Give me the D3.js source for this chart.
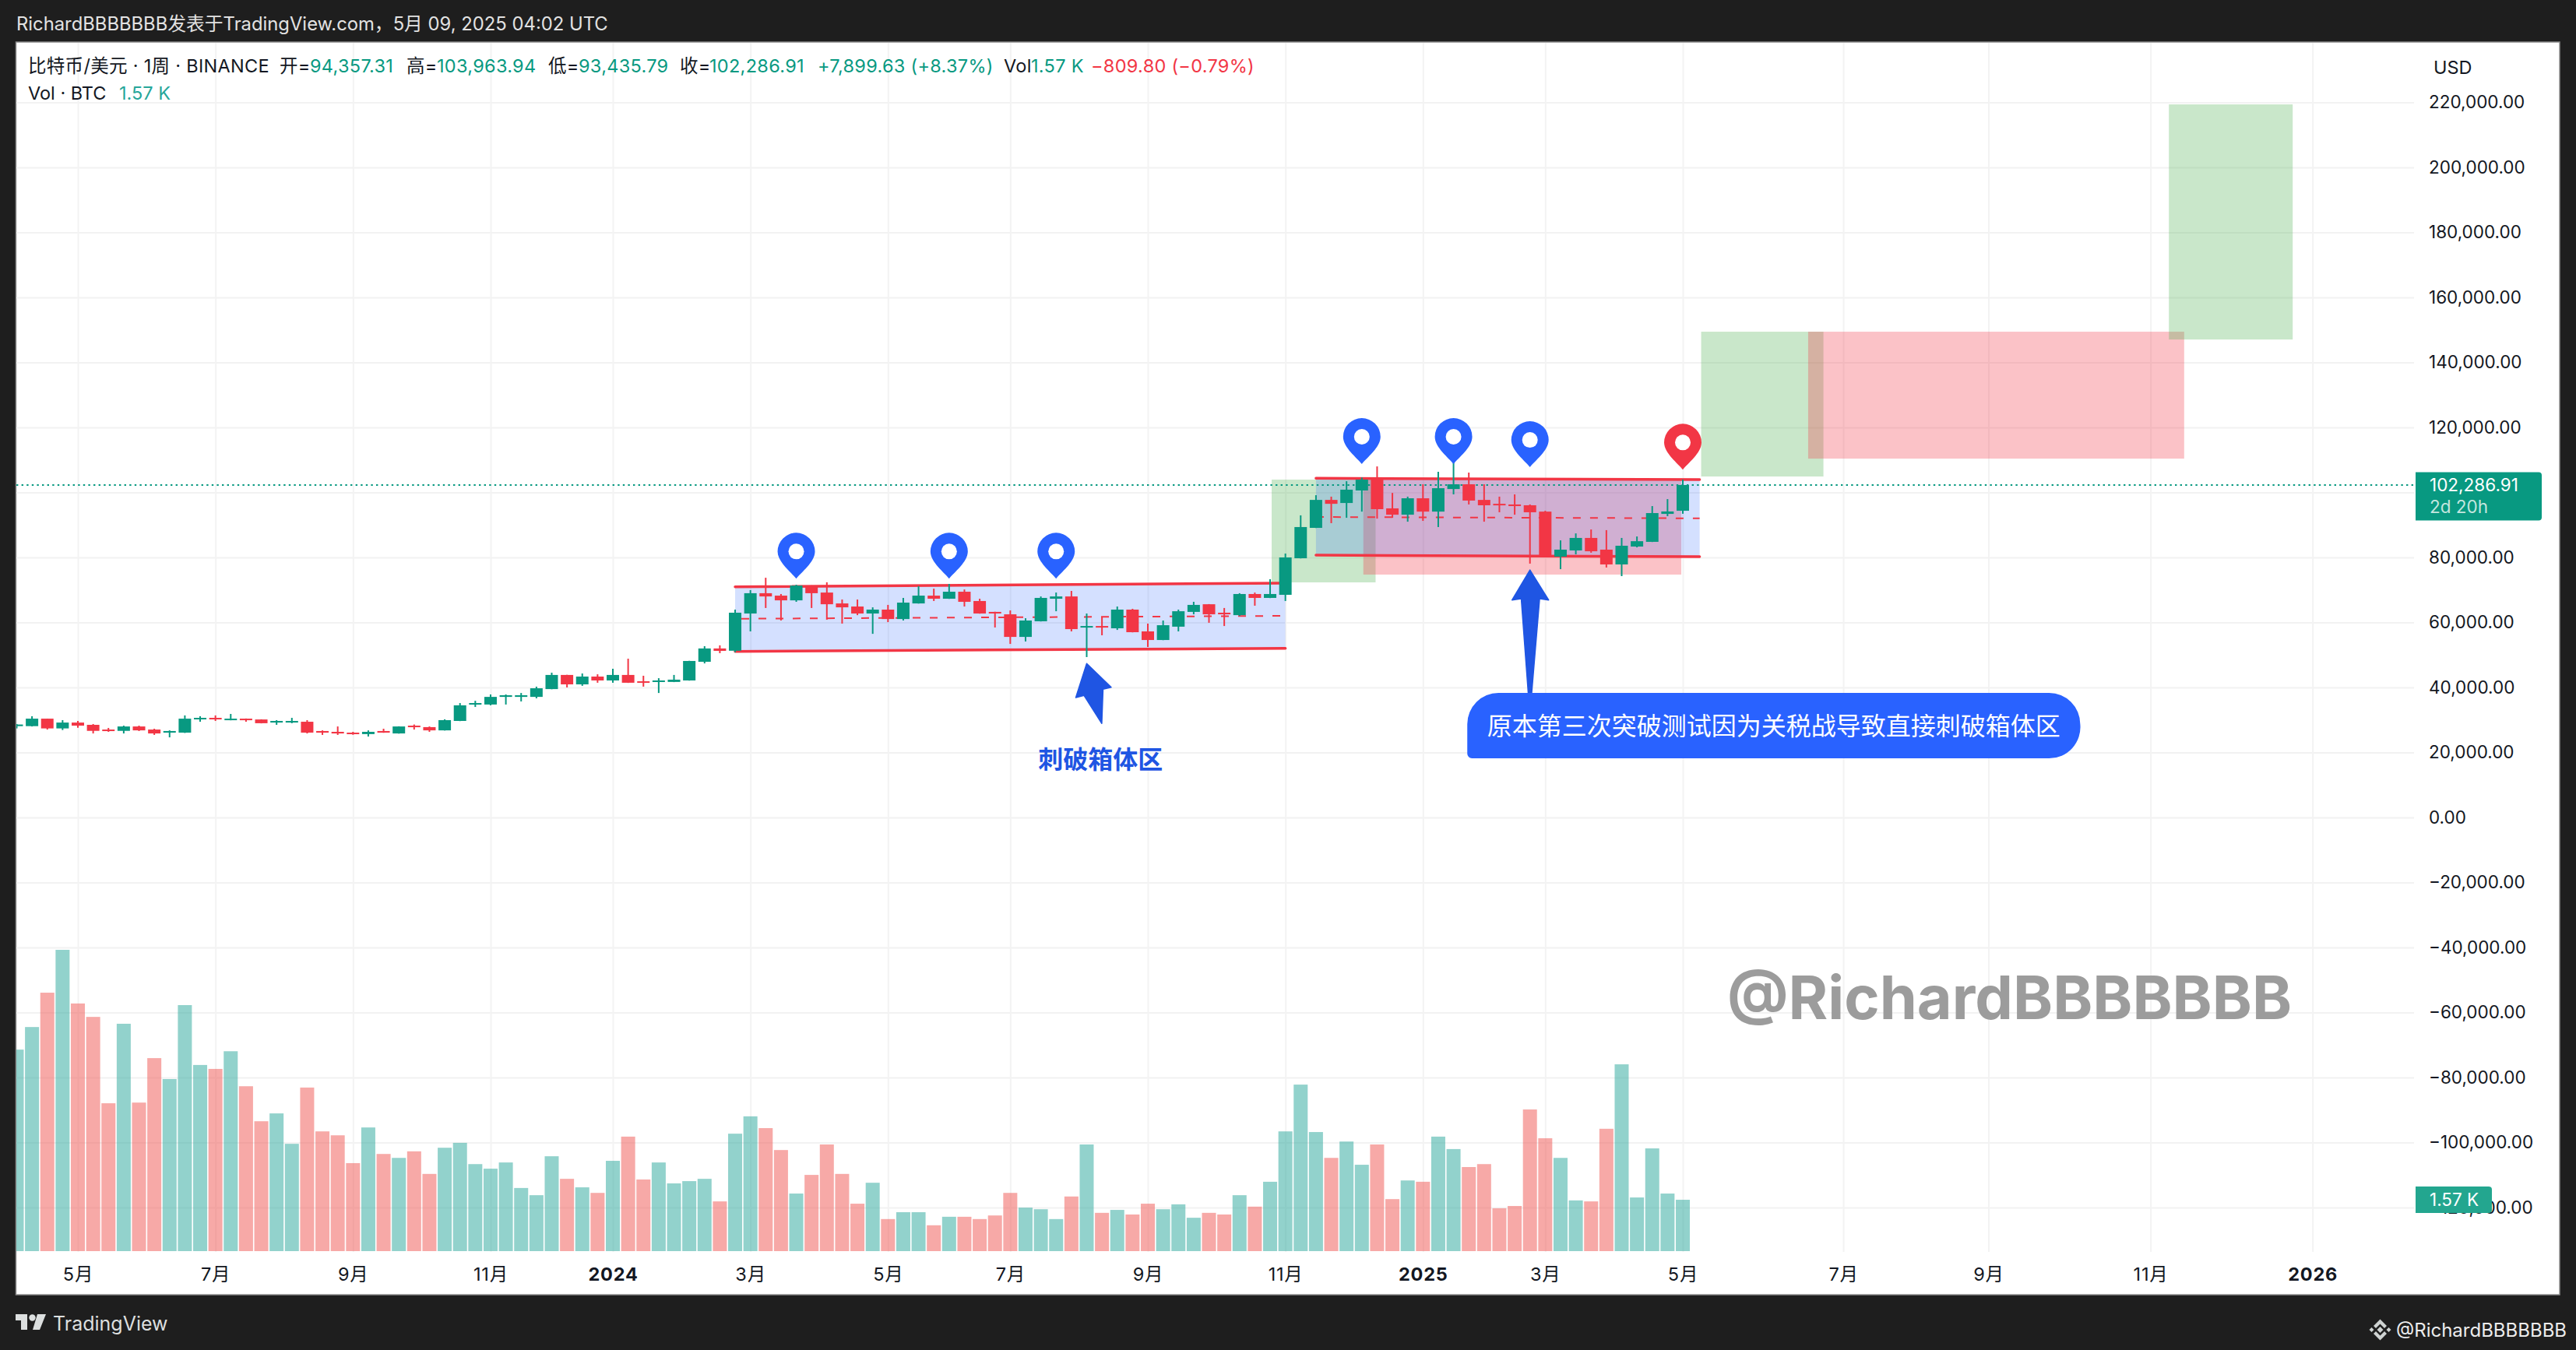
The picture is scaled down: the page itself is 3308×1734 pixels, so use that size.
<!DOCTYPE html>
<html>
<head>
<meta charset="utf-8">
<script src="https://cdn.jsdelivr.net/npm/d3@7"></script>
<style>
body { margin: 0; background: #1e1e1e; }
svg { display: block; }
text { font-family: Inter, "Noto Sans CJK SC", sans-serif; }
</style>
</head>
<body>
<script>
// weekly candles, first bar is 4 weeks before 5月 2023
var firstBar = -4;
var opens = [
	28100,28100,30400,27400,29200,28500,27050,26650,28000,27050,
	26100,26100,30200,30650,29950,30400,30150,29200,29200,29450,
	26600,26350,26100,25650,26600,25850,28250,27800,26800,29700,
	34750,34750,37100,37100,37100,39500,43850,40950,43350,42150,
	43850,41900,41700,41700,42150,47900,52000,51300,62750,69000,
	68250,66800,71350,69200,65850,64900,62750,63950,61050,65850,
	68250,67300,69450,66600,63250,62500,55550,60350,67300,68000,
	58450,58900,58200,63950,57250,54600,58700,63250,65600,63000,
	62250,68750,67550,68500,79750,89100,97700,96750,100600,104200,
	95100,93150,98200,94100,101050,102500,97700,96500,96300,96050,
	94100,80250,82150,86000,82400,77850,83350,84800,93400,94357.31
];
var closes = [
	28600,30400,27400,29200,28250,26650,26650,28000,26800,25850,
	26600,30400,30650,30200,30400,29950,29000,29700,29700,26100,
	26100,25850,25650,26350,26100,28000,27800,26800,29950,34500,
	35200,37100,37600,37600,39750,43850,40950,43350,42150,43850,
	41450,41450,42150,42400,48150,52000,51250,63000,69000,68000,
	66800,71350,69000,65600,64650,62750,63950,61050,66100,68250,
	67300,69450,66350,62750,62750,55550,60600,67550,68000,57950,
	58900,58450,63950,57000,54600,59150,63450,65400,62500,62500,
	68750,67550,68750,80000,89350,97700,96500,100850,103950,94850,
	93150,98200,94100,101300,102500,97500,96050,96050,95800,93900,
	80250,82400,86000,81900,77850,83600,85000,93650,94150,102286.91
];
var highs = [
	28750,31150,30400,29950,29700,28750,27550,28250,28250,27300,
	26800,31400,31150,31400,31850,30450,30200,29950,30650,29950,
	26800,28000,26350,26800,27300,28050,28600,28000,30200,35200,
	35900,37850,37850,38300,40250,44550,43900,44300,44050,45750,
	48850,43600,42850,43850,48200,52700,52950,63950,69950,73750,
	68750,71600,71400,72350,67050,67050,64650,65400,67550,71150,
	70400,71850,70150,67300,63300,63700,61300,68000,69200,69700,
	62750,61800,64900,64200,59650,60600,63950,66350,65650,64450,
	69000,69200,73300,81200,92950,99150,98700,103450,104600,108000,
	99850,98700,102500,106350,109350,106100,102500,98700,99400,96300,
	94350,85250,87400,88600,88400,86000,86450,95800,97950,103963.94
];
var lows = [
	27400,28000,27050,26900,27600,25850,26350,25850,26600,25400,
	24650,26000,29450,29700,29900,29450,28950,28500,29000,25850,
	25400,25400,25450,24900,26050,25800,27050,26350,26750,29650,
	34000,34500,34750,35700,36650,39450,40000,40500,41450,41450,
	41400,40250,38300,41650,42100,47400,50550,50850,57250,64450,
	60600,66350,64450,60850,59650,62250,56500,60100,60600,65800,
	66600,67250,64900,62700,58450,53400,54150,60300,63450,57250,
	49350,56050,57700,56950,52450,54550,57250,62500,59900,58900,
	62000,65150,67500,66600,79700,89050,90550,92200,94100,91950,
	92200,91000,91250,89350,99400,96300,91000,93900,93150,78100,
	80000,76400,80950,81450,76900,74250,83100,84750,92700,93435.79
];
// volume in K BTC
var volumes = [
	6.16,6.85,7.90,9.21,7.57,7.16,4.52,6.95,4.54,5.90,
	5.26,7.52,5.69,5.57,6.11,5.04,3.97,4.21,3.28,5.00,
	3.66,3.54,2.69,3.78,2.97,2.85,3.05,2.36,3.16,3.31,
	2.66,2.52,2.71,1.93,1.71,2.90,2.21,1.95,1.78,2.76,
	3.50,2.19,2.71,2.07,2.14,2.21,1.52,3.59,4.12,3.76,
	3.09,1.76,2.33,3.26,2.36,1.45,2.09,0.98,1.19,1.19,
	0.79,1.05,1.05,0.98,1.09,1.78,1.33,1.28,0.98,1.67,
	3.26,1.17,1.26,1.12,1.45,1.28,1.43,1.02,1.17,1.12,
	1.71,1.36,2.12,3.66,5.09,3.64,2.85,3.35,2.64,3.26,
	1.59,2.16,2.12,3.50,3.12,2.57,2.66,1.31,1.38,4.33,
	3.45,2.85,1.55,1.52,3.74,5.71,1.64,3.14,1.76,1.57
];
var priceTicks = [-120000,-100000,-80000,-60000,-40000,-20000,0,20000,40000,60000,80000,100000,120000,140000,160000,180000,200000,220000];
var timeTicks = [0,9,18,27,35,44,53,61,70,79,88,96,105,115.5,125,135.6,146.2];
var timeLabels = ["5月","7月","9月","11月","2024","3月","5月","7月","9月","11月","2025","3月","5月","7月","9月","11月","2026"];
var lastPrice = 102286.91;
var lastVolume = 1.57;

// drawings: bar index and price
var boxX = [[43, 79], [81, 106.1]];
var boxTop = [[70960, 72090], [104350, 103940]];
var boxMid = [[61140, 62030], [92450, 92040]];
var boxBottom = [[51090, 52040], [80710, 80230]];
var zoneX = [[78.1, 84.9], [84.1, 104.9], [106.2, 114.2], [113.2, 137.8], [136.8, 144.9]];
var zonePrice = [[103940, 72330], [103940, 74720], [149450, 104900], [149450, 110400], [219380, 147050]];
var zoneColor = ["g", "r", "g", "r", "g"];
var pinBars = [47, 57, 64, 84, 90, 95, 105];
var pinPrices = [73450, 73450, 73450, 108730, 108730, 107770, 106980];
var pinColors = ["b", "b", "b", "b", "b", "b", "r"];

var UP = "#089981", DOWN = "#f23645", BLUE = "#2962ff", ARROW = "#1f55e3";

var svg = d3.select("body").append("svg")
	.attr("width", 3308)
	.attr("height", 1734);

// window.top can't be reassigned, so plotTop
var plotLeft = 21, plotRight = 3100, plotTop = 55, plotBottom = 1662, gridBottom = 1608;

var x = d3.scaleLinear().domain([0, 105]).range([100, 2161]);
var y = d3.scaleLinear().domain([0, 220000]).range([1050, 131.5]);
var v = d3.scaleLinear().domain([0, 9.21]).range([1607, 1220]);

// page frame
svg.append("rect")
	.attr("x", 20.5).attr("y", 54)
	.attr("width", 3266.5).attr("height", 1609)
	.attr("fill", "#fff")
	.attr("stroke", "#8c8c8c")
	.attr("stroke-width", 1.5);

svg.append("clipPath").attr("id", "pane")
	.append("rect")
	.attr("x", plotLeft).attr("y", plotTop)
	.attr("width", plotRight - plotLeft).attr("height", plotBottom - plotTop);

// axes carry the grid lines too
var priceFormat = d3.format(",.2f");
var yAxis = svg.append("g")
	.attr("transform", "translate(" + plotRight + ",0)")
	.call(d3.axisRight(y).tickValues(priceTicks)
		.tickFormat(function(d) { return d == 100000 ? "" : priceFormat(d); }) // sits under the last price label
		.tickSize(-(plotRight - plotLeft)).tickPadding(19));
yAxis.select(".domain").remove();
yAxis.selectAll("line").attr("stroke", "#f2f2f2").attr("stroke-width", 2);
yAxis.selectAll("text")
	.attr("font-size", 22.5)
	.attr("fill", "#131722");

var xAxis = svg.append("g")
	.attr("transform", "translate(0," + gridBottom + ")")
	.call(d3.axisBottom(x).tickValues(timeTicks).tickFormat(function(d, i) { return timeLabels[i]; }).tickSize(-(gridBottom - plotTop)).tickPadding(20));
xAxis.select(".domain").remove();
xAxis.selectAll("line").attr("stroke", "#f3f3f3").attr("stroke-width", 2);
xAxis.selectAll("text")
	.attr("font-size", 23.5)
	.attr("fill", "#131722")
	.attr("font-weight", function(d, i) { return timeLabels[i].length == 4 ? 700 : 400; })
	.style("letter-spacing", "0.8px");

var pane = svg.append("g").attr("clip-path", "url(#pane)");

// volume first so the price drawings sit above
var bars = d3.range(opens.length);
function barX(i) { return x(i + firstBar); }
function isUp(i) { return closes[i] >= opens[i]; }

pane.append("g").selectAll("rect")
	.data(bars)
	.enter().append("rect")
	.attr("x", function(i) { return barX(i) - 9; })
	.attr("y", function(i) { return v(volumes[i]); })
	.attr("width", 18)
	.attr("height", function(i) { return v(0) - v(volumes[i]); })
	.attr("fill", function(i) { return isUp(i) ? "rgba(38,166,154,0.5)" : "rgba(239,83,80,0.5)"; });

// green and red target zones
pane.append("g").selectAll("rect")
	.data(d3.range(zoneX.length))
	.enter().append("rect")
	.attr("x", function(i) { return x(zoneX[i][0]); })
	.attr("y", function(i) { return y(zonePrice[i][0]); })
	.attr("width", function(i) { return x(zoneX[i][1]) - x(zoneX[i][0]); })
	.attr("height", function(i) { return y(zonePrice[i][1]) - y(zonePrice[i][0]); })
	.attr("fill", function(i) { return zoneColor[i] == "g" ? "rgba(76,175,80,0.3)" : "rgba(242,54,69,0.3)"; });

// consolidation boxes
boxX.forEach(function(bx, i) {
	var x0 = x(bx[0]), x1 = x(bx[1]);
	pane.append("path")
		.attr("d", "M" + x0 + "," + y(boxTop[i][0]) + "L" + x1 + "," + y(boxTop[i][1]) + "L" + x1 + "," + y(boxBottom[i][1]) + "L" + x0 + "," + y(boxBottom[i][0]) + "Z")
		.attr("fill", "rgba(41,98,255,0.2)");
	[boxTop[i], boxBottom[i]].forEach(function(b) {
		pane.append("line")
			.attr("x1", x0).attr("y1", y(b[0]))
			.attr("x2", x1).attr("y2", y(b[1]))
			.attr("stroke", DOWN)
			.attr("stroke-width", 3.5)
			.attr("stroke-linecap", "round");
	});
	pane.append("line")
		.attr("x1", x0 + (i == 0 ? 8 : 0)).attr("y1", y(boxMid[i][0]))
		.attr("x2", x1).attr("y2", y(boxMid[i][1]))
		.attr("stroke", DOWN)
		.attr("stroke-width", 2)
		.attr("stroke-dasharray", "10,12");
});

// current price line
pane.append("line")
	.attr("x1", plotLeft).attr("x2", plotRight)
	.attr("y1", y(lastPrice)).attr("y2", y(lastPrice))
	.attr("stroke", UP)
	.attr("stroke-width", 2)
	.attr("stroke-dasharray", "2.4,4.2");

// candles
var candles = pane.append("g").selectAll("g")
	.data(bars)
	.enter().append("g")
	.attr("fill", function(i) { return isUp(i) ? UP : DOWN; });
candles.append("rect")
	.attr("x", function(i) { return barX(i) - 1; })
	.attr("y", function(i) { return y(highs[i]); })
	.attr("width", 2)
	.attr("height", function(i) { return y(lows[i]) - y(highs[i]); });
candles.append("rect")
	.attr("x", function(i) { return barX(i) - 8; })
	.attr("y", function(i) { return y(Math.max(opens[i], closes[i])); })
	.attr("width", 16)
	.attr("height", function(i) { return Math.max(2, Math.abs(y(opens[i]) - y(closes[i]))); });

// map pins, anchored on the tip
var pins = svg.append("g").selectAll("g")
	.data(d3.range(pinBars.length))
	.enter().append("g")
	.attr("transform", function(i) { return "translate(" + x(pinBars[i]) + "," + y(pinPrices[i]) + ")"; });
pins.append("path")
	.attr("d", "M0,0C-6,-8 -24,-21 -24,-35A24,24 0 1 1 24,-35C24,-21 6,-8 0,0Z")
	.attr("fill", function(i) { return pinColors[i] == "b" ? BLUE : DOWN; });
pins.append("circle")
	.attr("cy", -35)
	.attr("r", 10)
	.attr("fill", "#fff");

// hand drawn arrows, anchored on the tip
function arrow(bar, price, d) {
	svg.append("path")
		.attr("transform", "translate(" + x(bar) + "," + y(price) + ")")
		.attr("d", d)
		.attr("fill", ARROW)
		.attr("stroke", ARROW)
		.attr("stroke-width", 1.5)
		.attr("stroke-linejoin", "round");
}
arrow(66, 47350, "M0,0L31.5,30.4L21,33L19.4,77L-3.4,41L-14,43.7Z");
arrow(95, 76160, "M0,0L24,38.7L12.4,37L2,161L-2,161L-11.2,37L-23,38.7Z");

svg.append("text")
	.attr("x", x(66.9))
	.attr("y", y(17960))
	.attr("dy", "0.36em")
	.attr("text-anchor", "middle")
	.attr("font-size", 32)
	.attr("font-weight", 700)
	.attr("fill", ARROW)
	.text("刺破箱体区");

// callout, only the lower left corner stays square-ish
var cx0 = x(90.9), cx1 = x(131), cy0 = y(38320), cy1 = y(18200), cr = 40;
svg.append("path")
	.attr("d", "M" + (cx0 + cr) + "," + cy0 + "L" + (cx1 - cr) + "," + cy0 +
		"A" + cr + "," + cr + " 0 0 1 " + cx1 + "," + (cy0 + cr) +
		"A" + cr + "," + cr + " 0 0 1 " + (cx1 - cr) + "," + cy1 +
		"L" + (cx0 + 6) + "," + cy1 +
		"A6,6 0 0 1 " + cx0 + "," + (cy1 - 6) +
		"L" + cx0 + "," + (cy0 + cr) +
		"A" + cr + "," + cr + " 0 0 1 " + (cx0 + cr) + "," + cy0 + "Z")
	.attr("fill", BLUE);
svg.append("text")
	.attr("x", (cx0 + cx1) / 2)
	.attr("y", (cy0 + cy1) / 2)
	.attr("dy", "0.36em")
	.attr("text-anchor", "middle")
	.attr("font-size", 32)
	.attr("fill", "#fff")
	.text("原本第三次突破测试因为关税战导致直接刺破箱体区");

// watermark
svg.append("text")
	.attr("x", 2218)
	.attr("y", 1309)
	.attr("font-size", 77.3)
	.attr("font-weight", 700)
	.attr("fill", "#9c9c9c")
	.text("@RichardBBBBBBB");

// legend
var legendText = ["比特币/美元 · 1周 · BINANCE", "开=", "94,357.31", "高=", "103,963.94", "低=", "93,435.79", "收=", "102,286.91", "+7,899.63 (+8.37%)", "Vol", "1.57 K", "−809.80 (−0.79%)"];
var legendX = [36, 359, 398, 522, 561, 704, 743, 873, 911, 1050, 1289, 1324, 1401];
var legendFill = ["#131722", "#131722", UP, "#131722", UP, "#131722", UP, "#131722", UP, UP, "#131722", UP, DOWN];
svg.append("g").selectAll("text")
	.data(legendText)
	.enter().append("text")
	.attr("x", function(d, i) { return legendX[i]; })
	.attr("y", 93)
	.attr("font-size", 23.5)
	.attr("fill", function(d, i) { return legendFill[i]; })
	.style("letter-spacing", "0.3px")
	.text(function(d) { return d; });
svg.append("text").attr("x", 36).attr("y", 128).attr("font-size", 23.5).attr("fill", "#131722").text("Vol · BTC");
svg.append("text").attr("x", 153).attr("y", 128).attr("font-size", 23.5).attr("fill", "#26a69a").text("1.57 K");

svg.append("text").attr("x", 3125).attr("y", 95).attr("font-size", 23.5).attr("fill", "#131722").text("USD");

// price labels on the scale
svg.append("path")
	.attr("d", "M3102,606.5H3260a4,4 0 0 1 4,4V664.5a4,4 0 0 1 -4,4H3102Z")
	.attr("fill", UP);
svg.append("text").attr("x", 3120).attr("y", 631).attr("font-size", 22.5).attr("fill", "#fff").text(priceFormat(lastPrice));
svg.append("text").attr("x", 3120).attr("y", 659).attr("font-size", 22.5).attr("fill", "#c3e6df").text("2d 20h");
svg.append("path")
	.attr("d", "M3102," + (v(lastVolume) - 17) + "H3196a4,4 0 0 1 4,4V" + (v(lastVolume) + 13) + "a4,4 0 0 1 -4,4H3102Z")
	.attr("fill", "#23a68f");
svg.append("text").attr("x", 3120).attr("y", v(lastVolume) + 8).attr("font-size", 22.5).attr("fill", "#fff").text(lastVolume + " K");

// header and footer on the dark frame
svg.append("text").attr("x", 21).attr("y", 39).attr("font-size", 23.8).attr("fill", "#e2e2e2").text("RichardBBBBBBB发表于TradingView.com，5月 09, 2025 04:02 UTC");

var logo = svg.append("g").attr("fill", "#dcdfdf");
logo.append("path").attr("d", "M20,1688H35V1708H27V1696H20Z");
logo.append("circle").attr("cx", 41.5).attr("cy", 1692.5).attr("r", 4.2);
logo.append("path").attr("d", "M48,1688H59L51,1708H42Z");
svg.append("text").attr("x", 68).attr("y", 1709).attr("font-size", 25).attr("fill", "#dcdfdf").text("TradingView");

var binance = svg.append("g").attr("transform", "translate(3056.5,1708)").attr("fill", "#cfd3d2");
binance.append("path").attr("d", "M0,-13.5L8.5,-5L5.5,-2L0,-7.5L-5.5,-2L-8.5,-5Z");
binance.append("path").attr("d", "M0,13.5L8.5,5L5.5,2L0,7.5L-5.5,2L-8.5,5Z");
binance.append("path").attr("d", "M0,-4L4,0L0,4L-4,0Z");
binance.append("path").attr("d", "M-11,-3L-8,0L-11,3L-14,0Z");
binance.append("path").attr("d", "M11,-3L14,0L11,3L8,0Z");
svg.append("text").attr("x", 3077).attr("y", 1717).attr("font-size", 24).attr("fill", "#ececec").text("@RichardBBBBBBB");
</script>
</body>
</html>
